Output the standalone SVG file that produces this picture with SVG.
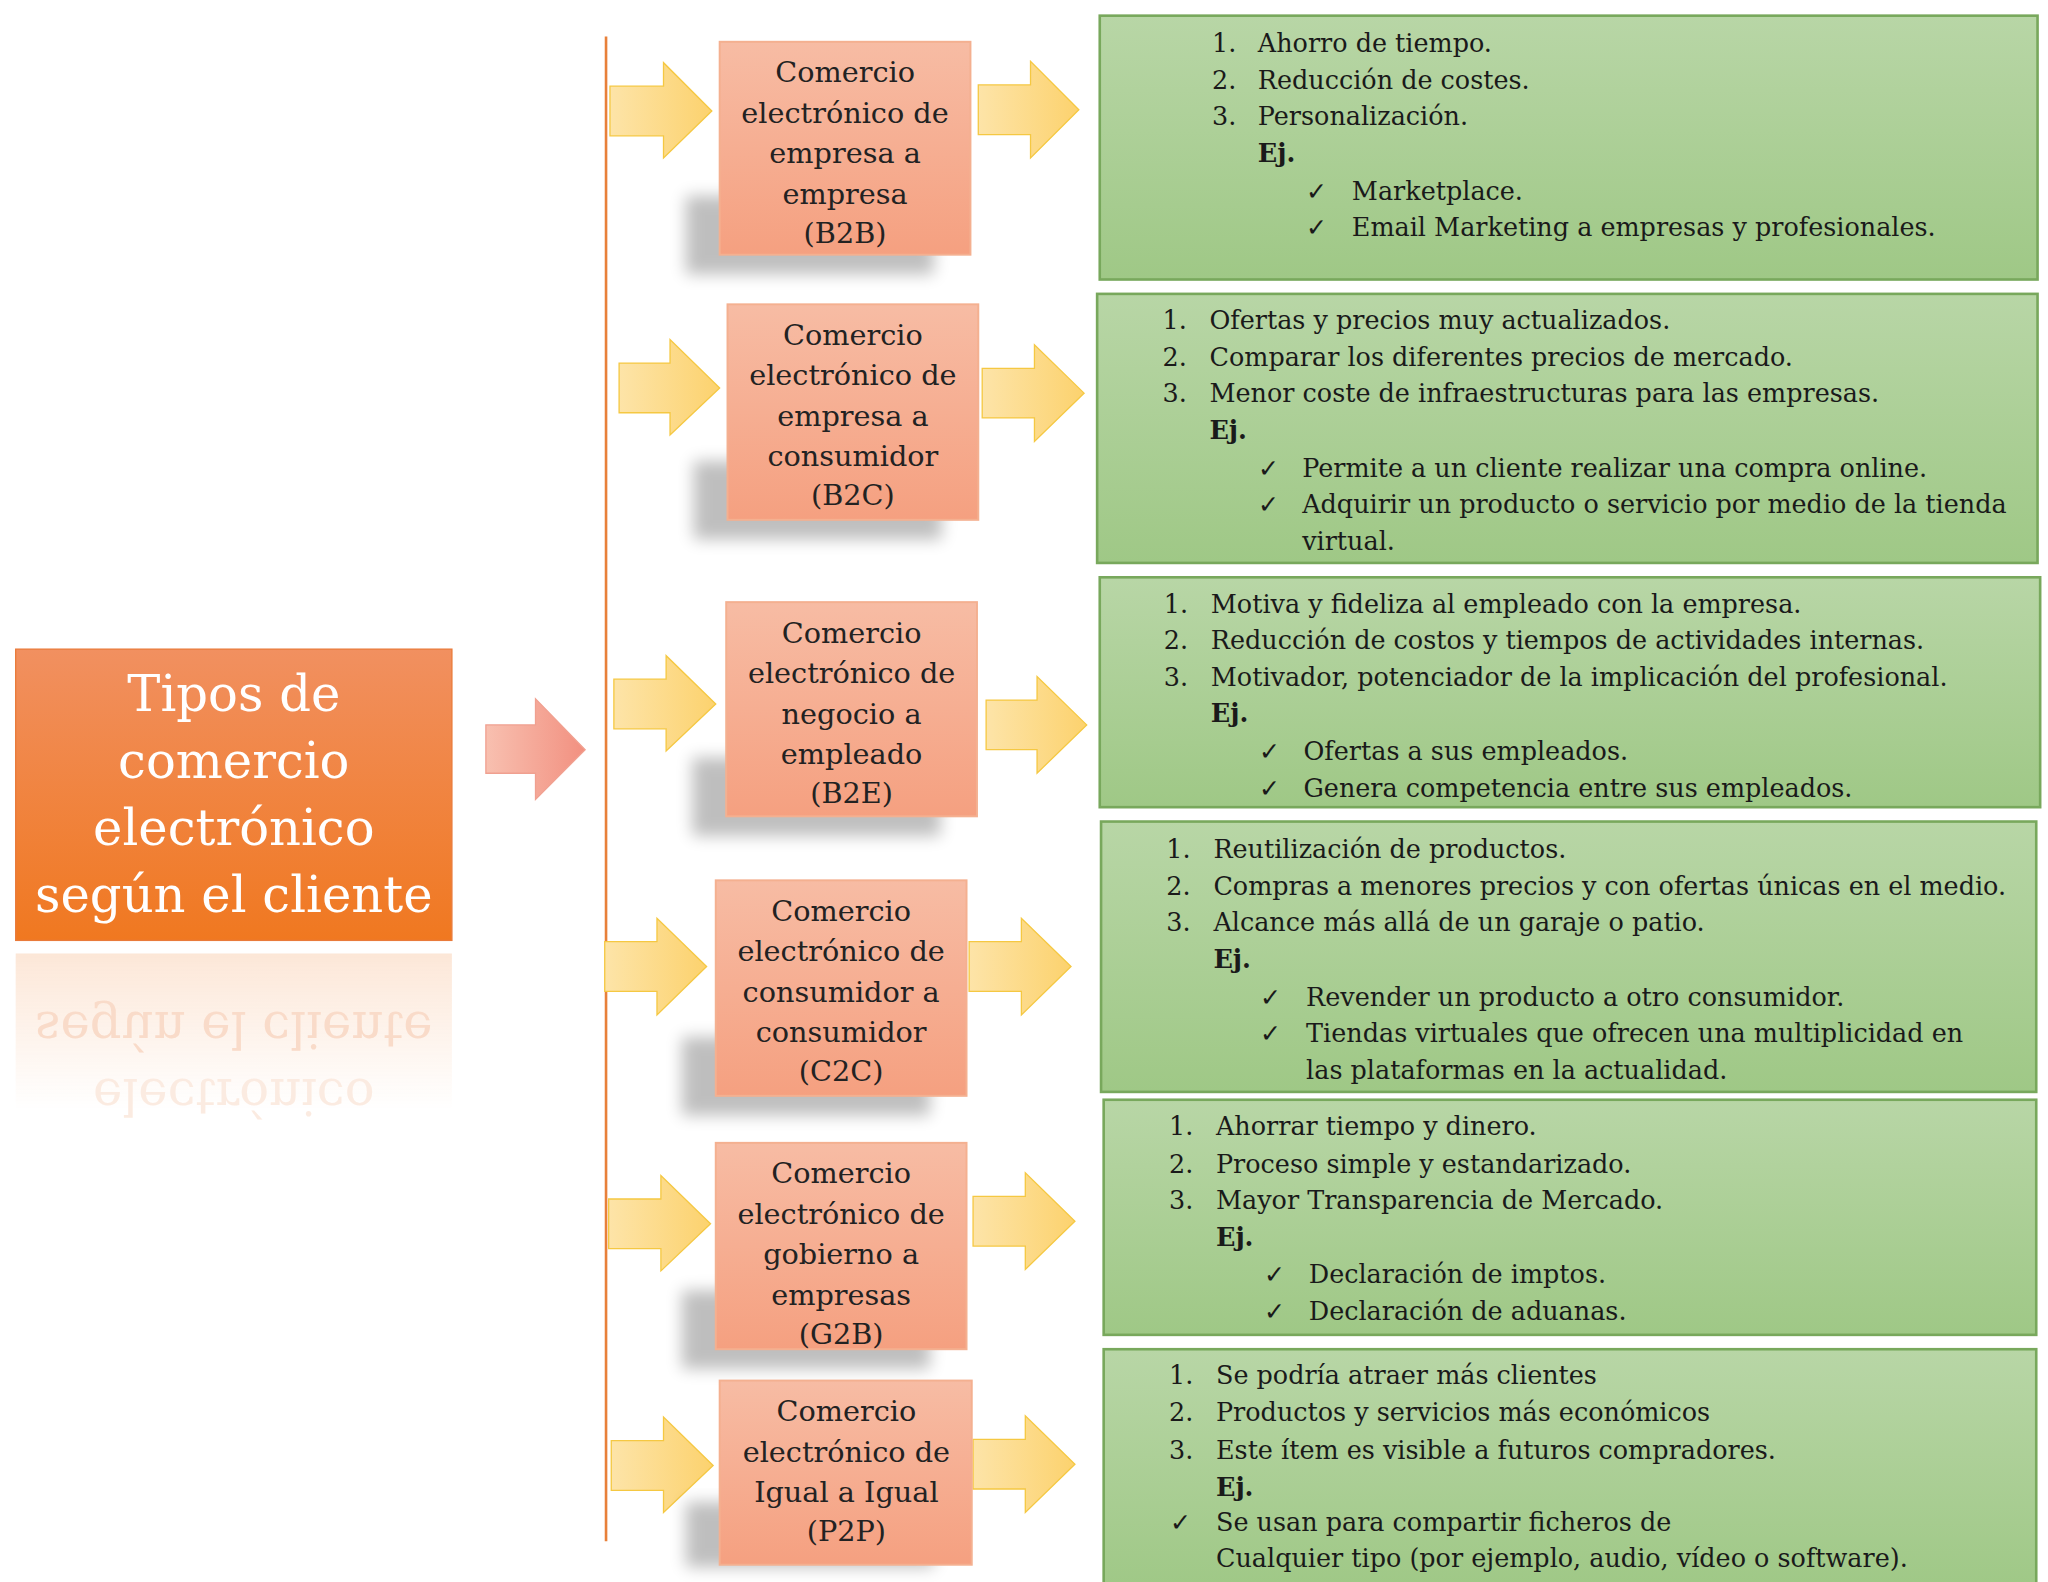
<svg xmlns="http://www.w3.org/2000/svg" width="2048" height="1582" viewBox="0 0 2048 1582">
<defs>
<linearGradient id="gMain" x1="0" y1="0" x2="0" y2="1"><stop offset="0" stop-color="#f19060"/><stop offset="1" stop-color="#f07820"/></linearGradient>
<linearGradient id="gRefl" x1="0" y1="0" x2="0" y2="1"><stop offset="0" stop-color="#f07820" stop-opacity="0.35"/><stop offset="1" stop-color="#f07820" stop-opacity="0"/></linearGradient>
<linearGradient id="gPink" x1="0" y1="0" x2="0" y2="1"><stop offset="0" stop-color="#f7bca4"/><stop offset="1" stop-color="#f5a080"/></linearGradient>
<linearGradient id="gGreen" x1="0" y1="0" x2="0" y2="1"><stop offset="0" stop-color="#b8d6a6"/><stop offset="1" stop-color="#9fc886"/></linearGradient>
<linearGradient id="gYel" x1="0" y1="0" x2="1" y2="0"><stop offset="0" stop-color="#fde4a8"/><stop offset="1" stop-color="#fcd26e"/></linearGradient>
<linearGradient id="gPinkA" x1="0" y1="0" x2="1" y2="0"><stop offset="0" stop-color="#f8c0b0"/><stop offset="1" stop-color="#f29080"/></linearGradient>
<filter id="sh" x="-20%" y="-20%" width="150%" height="150%"><feGaussianBlur stdDeviation="6"/></filter>
</defs>
<style>
.pk{fill:url(#gPink);stroke:#f4b090;stroke-width:1.5}
.gr{fill:url(#gGreen);stroke:#78a85c;stroke-width:2}
.ya{fill:url(#gYel);stroke:#f5c842;stroke-width:1}
.sd{fill:#000;opacity:0.25;filter:url(#sh)}
.pt{font-family:"DejaVu Serif",serif;font-size:22px;fill:#222;text-anchor:middle}
.gt{font-family:"DejaVu Serif",serif;font-size:19.5px;fill:#1a1a1a}
.b{font-weight:bold}
.mt{font-family:"DejaVu Serif",serif;font-size:38px;fill:#fff;text-anchor:middle}
</style>
<g transform="scale(1.30612)">
<g id="main">
<rect x="12" y="497" width="334" height="223" fill="url(#gMain)" stroke="#e97a3a"/>
<text class="mt" x="179" y="544">Tipos de</text>
<text class="mt" x="179" y="596">comercio</text>
<text class="mt" x="179" y="647">electrónico</text>
<text class="mt" x="179" y="698">según el cliente</text>
<g opacity="0.5">
<rect x="12" y="730" width="334" height="120" fill="url(#gRefl)"/>
<g transform="translate(0,1450) scale(1,-1)"><text class="mt" x="179" y="675" style="fill:#f4b894">según el cliente</text><text class="mt" x="179" y="624" style="fill:#f8d8c4">electrónico</text></g>
</g>
</g>
<g id="connectors">
<polygon points="372,555 410,555 410,535 448,574 410,612 410,592 372,592" fill="url(#gPinkA)" stroke="#f0a090"/>
<line x1="464" y1="28" x2="464" y2="1180" stroke="#e8803a" stroke-width="2"/>
<g id="la">
<polygon class="ya" points="467,66 508,66 508,48 545,85 508,121 508,104 467,104"/>
<polygon class="ya" points="474,278 513,278 513,260 551,297 513,333 513,316 474,316"/>
<polygon class="ya" points="470,520 510,520 510,502 548,539 510,575 510,558 470,558"/>
<polygon class="ya" points="463,721 503,721 503,703 541,740 503,777 503,759 463,759"/>
<polygon class="ya" points="466,918 506,918 506,900 544,937 506,973 506,956 466,956"/>
<polygon class="ya" points="468,1103 508,1103 508,1085 546,1122 508,1158 508,1141 468,1141"/>
</g>
<g id="ra">
<polygon class="ya" points="749,65 789,65 789,47 826,84 789,121 789,103 749,103"/>
<polygon class="ya" points="752,282 792,282 792,264 830,301 792,338 792,320 752,320"/>
<polygon class="ya" points="755,536 794,536 794,518 832,555 794,592 794,574 755,574"/>
<polygon class="ya" points="742,721 782,721 782,703 820,740 782,777 782,759 742,759"/>
<polygon class="ya" points="745,916 785,916 785,898 823,935 785,972 785,954 745,954"/>
<polygon class="ya" points="745,1102 785,1102 785,1084 823,1121 785,1158 785,1140 745,1140"/>
</g>
</g>
<g id="n1"><rect class="sd" x="525" y="150" width="190" height="60"/><rect class="pk" x="551" y="32" width="192" height="163"/>
<text class="pt" x="647" y="63">Comercio</text><text class="pt" x="647" y="94">electrónico de</text><text class="pt" x="647" y="125">empresa a</text><text class="pt" x="647" y="156">empresa</text><text class="pt" x="647" y="186">(B2B)</text></g>
<g id="n2"><rect class="sd" x="531" y="353" width="190" height="60"/><rect class="pk" x="557" y="233" width="192" height="165"/>
<text class="pt" x="653" y="264">Comercio</text><text class="pt" x="653" y="295">electrónico de</text><text class="pt" x="653" y="326">empresa a</text><text class="pt" x="653" y="357">consumidor</text><text class="pt" x="653" y="387">(B2C)</text></g>
<g id="n3"><rect class="sd" x="530" y="580" width="190" height="60"/><rect class="pk" x="556" y="461" width="192" height="164"/>
<text class="pt" x="652" y="492">Comercio</text><text class="pt" x="652" y="523">electrónico de</text><text class="pt" x="652" y="554">negocio a</text><text class="pt" x="652" y="585">empleado</text><text class="pt" x="652" y="615">(B2E)</text></g>
<g id="n4"><rect class="sd" x="522" y="794" width="190" height="60"/><rect class="pk" x="548" y="674" width="192" height="165"/>
<text class="pt" x="644" y="705">Comercio</text><text class="pt" x="644" y="736">electrónico de</text><text class="pt" x="644" y="767">consumidor a</text><text class="pt" x="644" y="798">consumidor</text><text class="pt" x="644" y="828">(C2C)</text></g>
<g id="n5"><rect class="sd" x="522" y="988" width="190" height="60"/><rect class="pk" x="548" y="875" width="192" height="158"/>
<text class="pt" x="644" y="906">Comercio</text><text class="pt" x="644" y="937">electrónico de</text><text class="pt" x="644" y="968">gobierno a</text><text class="pt" x="644" y="999">empresas</text><text class="pt" x="644" y="1029">(G2B)</text></g>
<g id="n6"><rect class="sd" x="525" y="1150" width="190" height="50"/><rect class="pk" x="551" y="1057" width="193" height="141"/>
<text class="pt" x="648" y="1088">Comercio</text><text class="pt" x="648" y="1119">electrónico de</text><text class="pt" x="648" y="1150">Igual a Igual</text><text class="pt" x="648" y="1180">(P2P)</text></g>

<g id="g1"><rect class="gr" x="842" y="12" width="718" height="202"/>
<text class="gt" x="928" y="40">1.</text><text class="gt" x="963" y="40">Ahorro de tiempo.</text>
<text class="gt" x="928" y="68">2.</text><text class="gt" x="963" y="68">Reducción de costes.</text>
<text class="gt" x="928" y="96">3.</text><text class="gt" x="963" y="96">Personalización.</text>
<text class="gt b" x="963" y="124">Ej.</text>
<text class="gt" x="1000" y="153">✓</text><text class="gt" x="1035" y="153">Marketplace.</text>
<text class="gt" x="1000" y="181">✓</text><text class="gt" x="1035" y="181">Email Marketing a empresas y profesionales.</text></g>
<g id="g2"><rect class="gr" x="840" y="225" width="720" height="206"/>
<text class="gt" x="890" y="252">1.</text><text class="gt" x="926" y="252">Ofertas y precios muy actualizados.</text>
<text class="gt" x="890" y="280">2.</text><text class="gt" x="926" y="280">Comparar los diferentes precios de  mercado.</text>
<text class="gt" x="890" y="308">3.</text><text class="gt" x="926" y="308">Menor coste de infraestructuras para las empresas.</text>
<text class="gt b" x="926" y="336">Ej.</text>
<text class="gt" x="963" y="365">✓</text><text class="gt" x="997" y="365">Permite a un cliente realizar una compra online.</text>
<text class="gt" x="963" y="393">✓</text><text class="gt" x="997" y="393">Adquirir un producto o servicio por medio de la tienda</text>
<text class="gt" x="997" y="421">virtual.</text></g>
<g id="g3"><rect class="gr" x="842" y="442" width="720" height="176"/>
<text class="gt" x="891" y="469">1.</text><text class="gt" x="927" y="469">Motiva y fideliza al empleado con la empresa.</text>
<text class="gt" x="891" y="497">2.</text><text class="gt" x="927" y="497">Reducción de costos y tiempos de actividades internas.</text>
<text class="gt" x="891" y="525">3.</text><text class="gt" x="927" y="525">Motivador, potenciador de la implicación del profesional.</text>
<text class="gt b" x="927" y="553">Ej.</text>
<text class="gt" x="964" y="582">✓</text><text class="gt" x="998" y="582">Ofertas a sus empleados.</text>
<text class="gt" x="964" y="610">✓</text><text class="gt" x="998" y="610">Genera competencia entre sus empleados.</text></g>
<g id="g4"><rect class="gr" x="843" y="629" width="716" height="207"/>
<text class="gt" x="893" y="657">1.</text><text class="gt" x="929" y="657">Reutilización de productos.</text>
<text class="gt" x="893" y="685">2.</text><text class="gt" x="929" y="685">Compras a menores precios y con ofertas únicas en el medio.</text>
<text class="gt" x="893" y="713">3.</text><text class="gt" x="929" y="713">Alcance más allá de un garaje o patio.</text>
<text class="gt b" x="929" y="741">Ej.</text>
<text class="gt" x="965" y="770">✓</text><text class="gt" x="1000" y="770">Revender un producto a otro consumidor.</text>
<text class="gt" x="965" y="798">✓</text><text class="gt" x="1000" y="798">Tiendas virtuales que ofrecen una multiplicidad en</text>
<text class="gt" x="1000" y="826">las plataformas en la actualidad.</text></g>
<g id="g5"><rect class="gr" x="845" y="842" width="714" height="180"/>
<text class="gt" x="895" y="869">1.</text><text class="gt" x="931" y="869">Ahorrar tiempo y dinero.</text>
<text class="gt" x="895" y="898">2.</text><text class="gt" x="931" y="898">Proceso simple y estandarizado.</text>
<text class="gt" x="895" y="926">3.</text><text class="gt" x="931" y="926">Mayor Transparencia de Mercado.</text>
<text class="gt b" x="931" y="954">Ej.</text>
<text class="gt" x="968" y="982">✓</text><text class="gt" x="1002" y="982">Declaración de imptos.</text>
<text class="gt" x="968" y="1011">✓</text><text class="gt" x="1002" y="1011">Declaración de aduanas.</text></g>
<g id="g6"><rect class="gr" x="845" y="1033" width="714" height="185"/>
<text class="gt" x="895" y="1060">1.</text><text class="gt" x="931" y="1060">Se podría atraer más clientes</text>
<text class="gt" x="895" y="1088">2.</text><text class="gt" x="931" y="1088">Productos y servicios más económicos</text>
<text class="gt" x="895" y="1117">3.</text><text class="gt" x="931" y="1117">Este ítem es  visible a futuros compradores.</text>
<text class="gt b" x="931" y="1145">Ej.</text>
<text class="gt" x="896" y="1172">✓</text><text class="gt" x="931" y="1172">Se usan para compartir ficheros de</text>
<text class="gt" x="931" y="1200">Cualquier tipo (por ejemplo, audio, vídeo o software).</text></g>
</g>
</svg>
